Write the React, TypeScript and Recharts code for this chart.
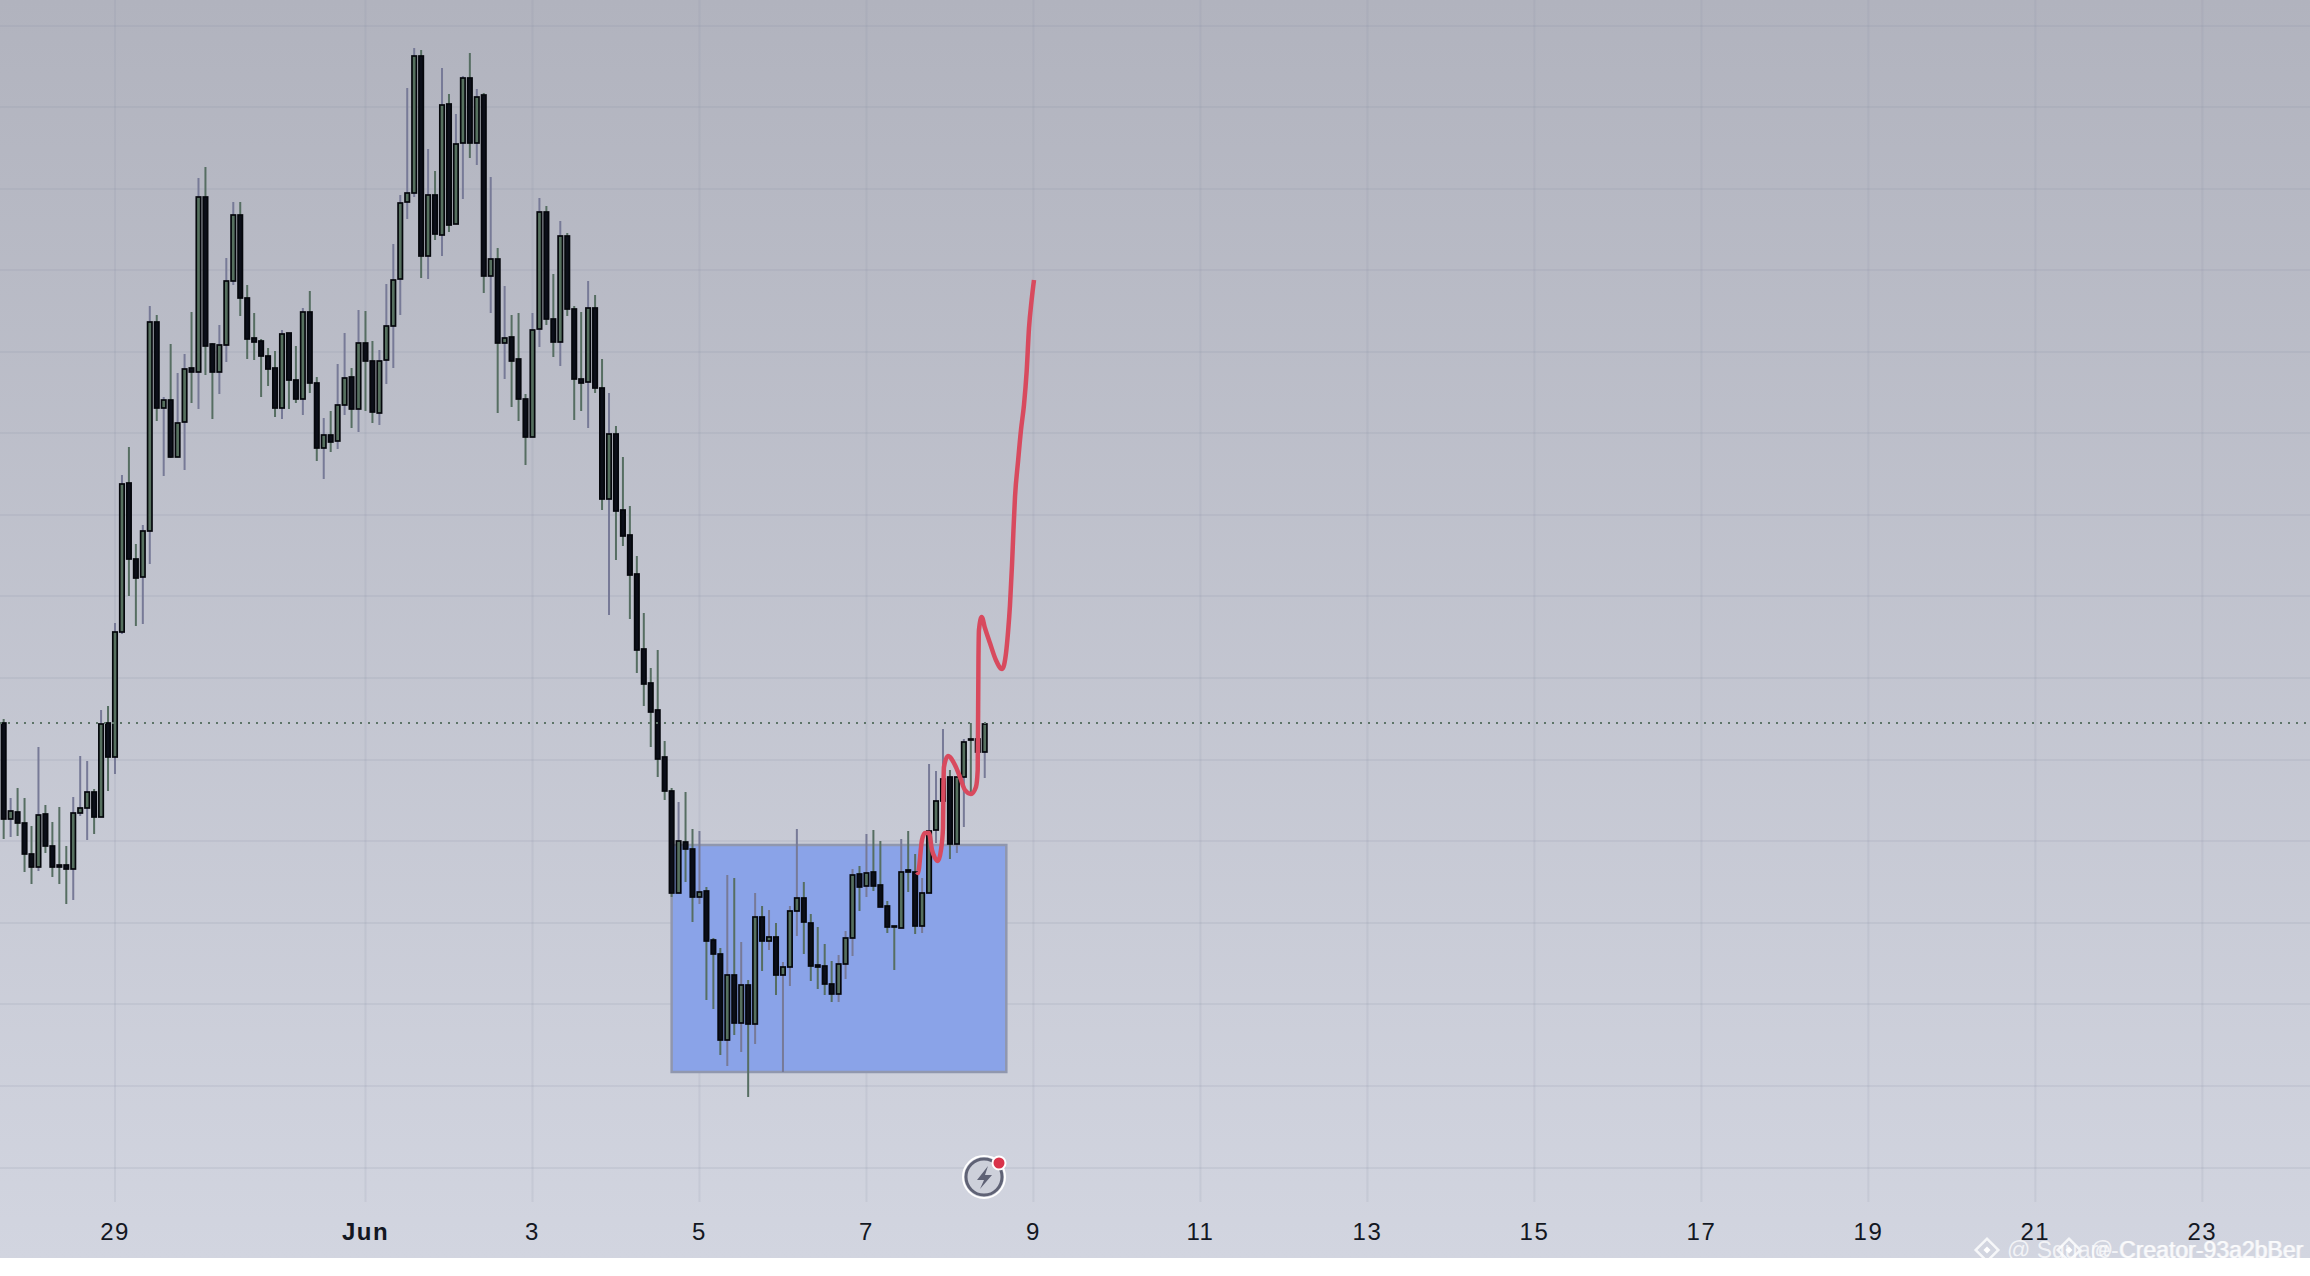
import React from 'react';
import { ComposedChart, Bar, Line, XAxis, YAxis, CartesianGrid, ReferenceArea, ReferenceLine } from 'recharts';

// candle index along the x axis, 2h candles, price read as a plain level off the picture
const opens = [535,439,446,435,404,391,444,412,393,393,389,445,450,466,441,535,501,626,775,699,681,727,936,850,858,801,836,890,886,1061,914,886,913,977,1043,960,920,917,902,890,850,925,878,859,946,875,810,823,817,853,881,849,915,897,845,898,932,979,1056,1065,1202,1002,1063,1023,1154,1034,1115,1180,1115,1163,982,999,915,921,899,859,821,929,1046,939,916,1022,949,879,876,950,870,759,824,748,723,684,609,575,548,501,467,365,416,409,361,367,318,304,218,283,235,273,234,341,317,321,283,291,347,360,335,293,292,274,264,294,320,384,372,386,373,352,332,330,388,386,332,365,428,457,481,414,481,519,519,506];
const highs = [539,460,470,460,432,511,453,436,451,412,461,502,497,469,548,552,635,783,811,714,733,952,943,861,914,885,904,946,1080,1091,915,933,1000,1056,1056,973,945,919,910,907,928,925,912,950,967,881,840,847,894,925,890,948,947,917,908,974,1014,1063,1170,1210,1208,1109,1087,1190,1164,1144,1182,1205,1169,1165,1081,1010,972,943,945,864,945,1060,1052,984,1037,1025,952,946,977,963,899,865,832,801,752,702,645,590,608,517,470,456,466,429,427,371,320,310,383,380,316,278,365,352,348,335,296,352,429,376,344,331,314,297,303,327,389,392,424,428,417,357,332,419,427,404,380,494,487,529,488,481,519,535,555,534];
const lows = [419,421,422,386,374,387,405,381,374,354,358,442,418,424,441,467,484,624,662,632,634,694,837,782,800,801,788,855,849,883,839,864,896,973,942,899,898,861,872,841,839,849,855,843,865,797,779,806,809,843,830,826,847,835,833,874,890,943,1039,1061,980,979,1018,1002,1026,1034,1059,1100,1093,965,945,845,879,851,837,793,821,911,933,901,892,942,838,847,830,865,748,643,698,712,639,585,552,511,481,458,361,365,376,336,354,258,249,203,192,223,206,161,214,287,308,263,186,272,322,304,277,269,263,256,256,279,302,347,361,367,351,325,288,330,366,324,325,365,415,457,399,405,431,465,486,480];
const closes = [439,447,435,404,391,443,412,391,391,389,445,450,466,441,534,501,626,774,699,680,727,936,850,858,801,835,889,886,1061,912,886,913,977,1043,960,919,916,902,889,850,924,878,859,946,875,810,823,816,853,880,849,915,897,846,897,932,978,1055,1065,1202,1002,1063,1024,1153,1033,1114,1180,1115,1161,982,999,915,920,897,859,821,928,1046,939,916,1022,949,879,875,950,870,759,824,747,722,683,608,574,546,499,467,365,417,409,361,366,317,304,218,283,235,273,234,341,317,321,283,291,347,360,336,292,291,274,264,294,320,383,371,385,372,351,331,331,386,386,332,365,427,457,479,414,481,516,518,506,534];

const tickIndex = [16,52,76,100,124,148,172,196,220,244,268,292,316];
const tickLabels = ['29','Jun','3','5','7','9','11','13','15','17','19','21','23'];
const gridLevels = [1232,1151,1069,988,906,825,743,662,580,498,417,335,254,172,90];

// hand drawn red path over the candles
const redIndex = [131.26,131.4,131.98,132.41,132.99,133.42,133.85,134.28,134.71,135,135.07,135.14,135.71,136.72,137.44,138.16,139.02,139.74,139.99,140.1,140.17,140.56,141.03,141.75,142.6,143.5,144.06,144.35,144.63,144.92,145.13,145.35,145.78,146.21,146.64,147.02,147.36,147.74,148.08];
const redLevels = [386,385,418,425,425,408,400,397,408,430,471,491,502,493,481,468,464,471,488,600,628,641,630,615,598,589,605,626,653,693,728,761,796,828,853,886,930,958,978];

const boxLeft = 96;
const boxRight = 144.1;
const boxTop = 413;
const boxBottom = 186;
const lastPrice = 535;

const candles = opens.map((open, i) => ({
  i,
  open,
  close: closes[i],
  high: highs[i],
  low: lows[i],
}));
const redPath = redIndex.map((i, n) => ({ i, red: redLevels[n] }));

const Candle = (props: any) => {
  const { x, y, width, height, payload } = props;
  const { open, close, high, low } = payload;
  const k = height / (high - low);
  const cx = x + width / 2;
  const up = close >= open;
  const top = y + (high - Math.max(open, close)) * k;
  const bodyH = Math.max(Math.abs(open - close) * k, 1);
  return (
    <g>
      <rect x={cx - 1} y={y} width={2} height={height} fill={up ? '#777a97' : '#566e62'} />
      <rect x={cx - 2.2} y={top} width={4.4} height={bodyH} fill={up ? '#56705f' : '#0b0e18'} stroke="#05070c" strokeWidth={1.7} />
    </g>
  );
};

const AxisTick = (props: any) => {
  const { x, y, payload } = props;
  const label = tickLabels[tickIndex.indexOf(payload.value)];
  return (
    <text
      x={x}
      y={y}
      dy={30}
      textAnchor="middle"
      fontFamily="'Liberation Sans', Arial, sans-serif"
      fontSize={24}
      letterSpacing={1.5}
      fontWeight={label === 'Jun' ? 700 : 400}
      fill="#131722"
    >
      {label}
    </text>
  );
};

const Diamond = ({ x, y }: { x: number; y: number }) => (
  <g transform={`translate(${x} ${y}) rotate(45)`} fill="none" stroke="#ffffff" strokeOpacity={0.8} strokeWidth={2.5}>
    <rect x={-8} y={-8} width={16} height={16} />
    <rect x={-2.5} y={-2.5} width={5} height={5} fill="#ffffff" stroke="none" />
  </g>
);

export default function App() {
  return (
    <div style={{ position: 'fixed', left: 0, top: 0, width: 2310, height: 1276, background: '#ffffff' }}>
      <div style={{ width: 2310, height: 1258, background: 'linear-gradient(#b1b3be, #d2d5e0)' }}>
        <ComposedChart width={2310} height={1258} data={candles} margin={{ top: 0, right: 0, bottom: 0, left: 0 }}>
          <CartesianGrid
            stroke="#8a8ea6"
            strokeOpacity={0.14}
            strokeWidth={2}
            horizontalValues={gridLevels}
            verticalValues={tickIndex}
          />
          <XAxis
            dataKey="i"
            type="number"
            domain={[-0.528, 331.47]}
            ticks={tickIndex}
            tick={<AxisTick />}
            interval={0}
            height={56}
            axisLine={false}
            tickLine={false}
            allowDataOverflow
          />
          <YAxis type="number" domain={[56, 1258]} width={0} hide allowDataOverflow />
          <ReferenceLine y={lastPrice} stroke="#5d7468" strokeWidth={2} strokeDasharray="2 6" />
          <ReferenceArea
            x1={boxLeft}
            x2={boxRight}
            y1={boxBottom}
            y2={boxTop}
            fill="#8aa3e8"
            fillOpacity={1}
            stroke="#9097ae"
            strokeWidth={2.5}
          />
          <Line
            data={redPath}
            dataKey="red"
            type="monotone"
            stroke="#d84a5e"
            strokeWidth={4.5}
            dot={false}
            activeDot={false}
            isAnimationActive={false}
          />
          <Bar dataKey={(d: any) => [d.low, d.high]} barSize={6} shape={<Candle />} isAnimationActive={false} />
        </ComposedChart>
      </div>
      <svg width={2310} height={1276} style={{ position: 'absolute', left: 0, top: 0, pointerEvents: 'none' }}>
        <circle cx={984} cy={1177} r={21} fill="#cdd0da" stroke="#ffffff" strokeWidth={2} />
        <circle cx={984} cy={1177} r={18} fill="none" stroke="#5f6275" strokeWidth={3} />
        <path d="M988 1166 L977 1180 L984 1180 L980 1189 L992 1175 L985 1175 Z" fill="#5f6275" />
        <circle cx={999} cy={1163} r={6.5} fill="#d9334a" stroke="#ffffff" strokeWidth={2} />
        <Diamond x={1987} y={1250} />
        <Diamond x={2069} y={1250} />
        <g fontFamily="'Liberation Sans', Arial, sans-serif" fontSize={23} fill="#ffffff" fillOpacity={0.72}>
          <text x={2007} y={1258}>@ Square-Creator-93a2bBer</text>
          <text x={2090} y={1258}>@ Creator-93a2bBer</text>
        </g>
      </svg>
    </div>
  );
}
